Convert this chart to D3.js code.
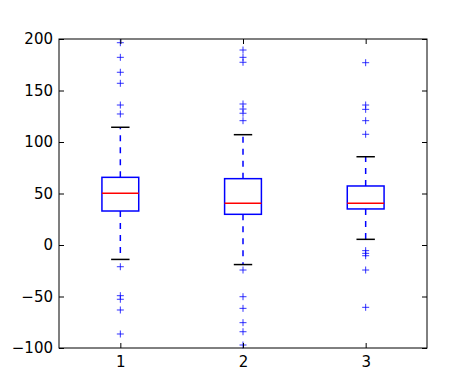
<!DOCTYPE html>
<html>
<head>
<meta charset="utf-8">
<script src="https://cdn.jsdelivr.net/npm/d3@7"></script>
<style>
  body { margin: 0; background: #fff; }
  svg { display: block; }
</style>
</head>
<body>
<div id="chart"></div>
<script>
// box stats
var categories = [1, 2, 3];
var whiskerLo = [-14, -19, 5.5];
var q1 = [33, 29.8, 35];
var medians = [50.2, 40.5, 40.5];
var q3 = [65.7, 64.4, 57.3];
var whiskerHi = [114.3, 107.1, 85.7];
var fliers = [
    [196.4, 182.2, 167.7, 157, 135.9, 127.2, -21.1, -49.2, -52.7, -63.1, -86.4],
    [189.3, 182.2, 177.4, 136.9, 132, 127.9, 120.7, -24.3, -50.2, -61.5, -75.4, -84.2, -97.1],
    [177, 135.9, 131.7, 120.7, 107.5, -5.5, -8.1, -10.4, -24.3, -60.5]
];
var yTicks = [-100, -50, 0, 50, 100, 150, 200];

var width = 474, height = 387;
var margin = {top: 39, right: 47, bottom: 39, left: 59};
var w = width - margin.left - margin.right,
    h = height - margin.top - margin.bottom;

var svg = d3.select("#chart").append("svg")
    .attr("width", width)
    .attr("height", height);

var g = svg.append("g").attr("transform", "translate(" + margin.left + "," + margin.top + ")");

var x = d3.scaleLinear().domain([0.5, 3.5]).range([0, w]);
var y = d3.scaleLinear().domain([-100, 200]).range([h, 0]);

var boxW = x(0.3) - x(0);
var capW = x(0.15) - x(0);
var lw = 1.5;

var data = categories.map(function(c, i) {
    return {cat: c, lo: whiskerLo[i], q1: q1[i], med: medians[i], q3: q3[i], hi: whiskerHi[i], fl: fliers[i]};
});

var box = g.selectAll(".box").data(data).enter().append("g").attr("class", "box");

// whiskers
box.append("line")
    .attr("x1", function(d) { return x(d.cat); })
    .attr("x2", function(d) { return x(d.cat); })
    .attr("y1", function(d) { return y(d.q3); })
    .attr("y2", function(d) { return y(d.hi); })
    .attr("stroke", "#0000ff").attr("stroke-width", lw).attr("stroke-dasharray", "6,6");
box.append("line")
    .attr("x1", function(d) { return x(d.cat); })
    .attr("x2", function(d) { return x(d.cat); })
    .attr("y1", function(d) { return y(d.q1); })
    .attr("y2", function(d) { return y(d.lo); })
    .attr("stroke", "#0000ff").attr("stroke-width", lw).attr("stroke-dasharray", "6,6");

// caps
["hi", "lo"].forEach(function(k) {
    box.append("line")
        .attr("x1", function(d) { return x(d.cat) - capW / 2; })
        .attr("x2", function(d) { return x(d.cat) + capW / 2; })
        .attr("y1", function(d) { return y(d[k]); })
        .attr("y2", function(d) { return y(d[k]); })
        .attr("stroke", "#000").attr("stroke-width", lw);
});

// boxes
box.append("rect")
    .attr("x", function(d) { return x(d.cat) - boxW / 2; })
    .attr("y", function(d) { return y(d.q3); })
    .attr("width", boxW)
    .attr("height", function(d) { return y(d.q1) - y(d.q3); })
    .attr("fill", "none").attr("stroke", "#0000ff").attr("stroke-width", lw);

// medians
box.append("line")
    .attr("x1", function(d) { return x(d.cat) - boxW / 2; })
    .attr("x2", function(d) { return x(d.cat) + boxW / 2; })
    .attr("y1", function(d) { return y(d.med); })
    .attr("y2", function(d) { return y(d.med); })
    .attr("stroke", "#ff0000").attr("stroke-width", lw);

// fliers as '+'
box.each(function(d) {
    d3.select(this).selectAll(".flier").data(d.fl).enter().append("path")
        .attr("class", "flier")
        .attr("d", "M-3.5,0H3.5M0,-3.5V3.5")
        .attr("transform", function(v) { return "translate(" + x(d.cat) + "," + y(v) + ")"; })
        .attr("stroke", "#0000ff").attr("stroke-width", 0.8).attr("fill", "none");
});

// axes, ticks pointing inward on all four sides
var tickLen = 5;
g.append("g")
    .call(d3.axisLeft(y).tickValues(yTicks).tickSizeInner(-tickLen).tickSizeOuter(0).tickPadding(6)
        .tickFormat(function(d) { return d < 0 ? "\u2212" + Math.abs(d) : d; }));
g.append("g").attr("transform", "translate(" + w + ",0)")
    .call(d3.axisRight(y).tickValues(yTicks).tickSizeInner(-tickLen).tickSizeOuter(0).tickFormat(""));
g.append("g").attr("transform", "translate(0," + h + ")")
    .call(d3.axisBottom(x).tickValues(categories).tickSizeInner(-tickLen).tickSizeOuter(0).tickPadding(8)
        .tickFormat(d3.format("d")));
g.append("g")
    .call(d3.axisTop(x).tickValues(categories).tickSizeInner(-tickLen).tickSizeOuter(0).tickFormat(""));

g.selectAll(".domain").remove();
g.selectAll(".tick line").attr("stroke", "#000");
g.selectAll(".tick text")
    .style("font-family", "'DejaVu Sans', sans-serif")
    .style("font-size", "15px")
    .attr("fill", "#000");

// frame
g.append("rect")
    .attr("x", 0).attr("y", 0).attr("width", w).attr("height", h)
    .attr("fill", "none").attr("stroke", "#000").attr("stroke-width", 1);
</script>
</body>
</html>
